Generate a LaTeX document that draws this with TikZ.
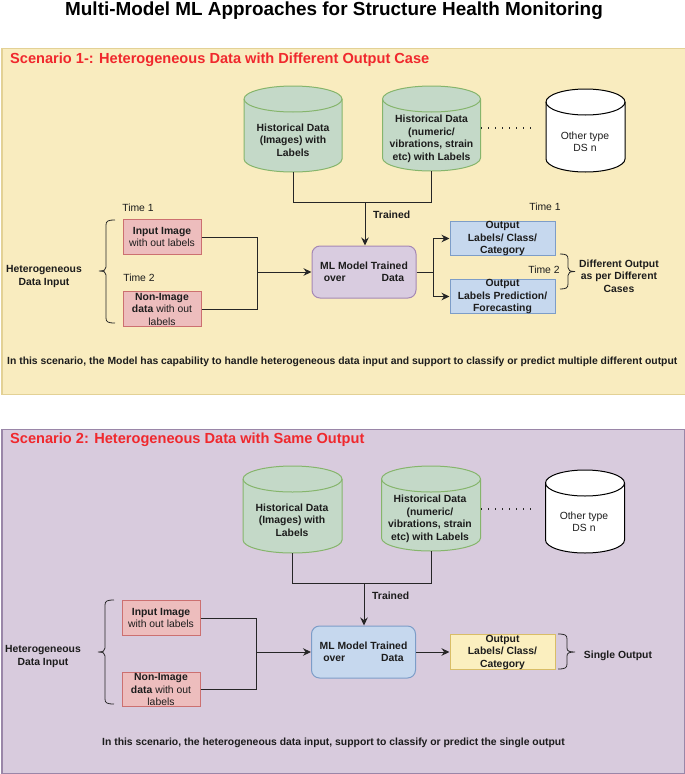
\documentclass[tikz,border=0pt]{standalone}
\usepackage{fontspec}
\setmainfont{Liberation Sans}
\usetikzlibrary{arrows.meta,positioning}
\definecolor{txt}{HTML}{1C1C1C}
\definecolor{panelA}{HTML}{F9ECBF}
\definecolor{panelAl}{HTML}{E3D195}
\definecolor{panelB}{HTML}{D8CBDD}
\definecolor{panelBl}{HTML}{9A86A8}
\definecolor{greenF}{HTML}{C4D9C8}
\definecolor{greenL}{HTML}{86B56C}
\definecolor{redF}{HTML}{EDBDBD}
\definecolor{redL}{HTML}{CC7070}
\definecolor{blueF}{HTML}{C6D8EE}
\definecolor{blueL}{HTML}{7D9DC8}
\definecolor{purF}{HTML}{D9CCE0}
\definecolor{purL}{HTML}{A588B5}
\definecolor{yelF}{HTML}{FBEFBF}
\definecolor{yelL}{HTML}{D9BD66}
\definecolor{scen}{HTML}{F0282D}
\tikzset{
  x=1pt,y=-1pt,
  txtbase/.style={font=\fontsize{10.38}{12.5}\selectfont,text=txt,align=center,inner sep=0pt},
  plaintxt/.style={txtbase},
  boldtxt/.style={txtbase,font=\fontsize{10.38}{12.5}\selectfont\bfseries},
  panelbox/.style={anchor=north west,minimum width=682pt,line width=1.2pt,inner sep=0pt},
  heading/.style={anchor=west,inner sep=0pt,text=scen,font=\fontsize{14.6}{16}\selectfont\bfseries},
  gcyl/.style={fill=greenF,draw=greenL,line width=1pt},
  wcyl/.style={fill=white,draw=black,line width=1pt},
  shapebox/.style={txtbase,draw,line width=1pt,minimum width=78pt,minimum height=34.5pt},
  redbox/.style={shapebox,fill=redF,draw=redL},
  outbox/.style={shapebox,minimum width=105pt},
  mdl/.style={txtbase,draw,line width=1pt,rounded corners=8pt,minimum width=104pt,minimum height=52pt,font=\fontsize{10.38}{12.5}\selectfont\bfseries},
  con/.style={draw=black!85,line width=.9pt},
  arr/.style={con,-{Stealth[length=8pt,width=7.5pt]}},
  dotline/.style={draw=black!85,line width=1.3pt,dash pattern=on 1.3pt off 5.7pt},
  br/.style={draw=black!85,line width=.8pt},
}
% name, centre x, top y, bottom y, half width, style: an anchor node and the drum drawn round it
\newcommand{\drum}[6]{%
  \node[minimum width=2*#5 pt,minimum height=#4 pt-#3 pt,inner sep=0pt] (#1) at (#2,{(#3+#4)/2}) {};
  \draw[#6] (#2-#5,#4-13) arc (180:360:#5pt and 13pt) -- (#2+#5,#3+13) arc (0:180:#5pt and 13pt) -- cycle;
  \draw[#6,fill=none] (#2-#5,#3+13) arc (180:360:#5pt and 13pt);
}
\newcommand{\leftbr}[6]{\draw[br] (#1,#4) .. controls (#2+2,#4) and (#2,#4+1) .. (#2,#4+5) -- (#2,#5-4) .. controls (#2,#5-1) and (#2-2,#5) .. (#3,#5) (#3,#5) .. controls (#2-2,#5) and (#2,#5+1) .. (#2,#5+4) -- (#2,#6-5) .. controls (#2,#6-1) and (#2+2,#6) .. (#1,#6);}
\newcommand{\rightbr}[6]{\draw[br] (#1,#4) .. controls (#2-2,#4) and (#2,#4+1) .. (#2,#4+5) -- (#2,#5-4) .. controls (#2,#5-1) and (#2+2,#5) .. (#3,#5) (#3,#5) .. controls (#2+2,#5) and (#2,#5+1) .. (#2,#5+4) -- (#2,#6-5) .. controls (#2,#6-1) and (#2-2,#6) .. (#1,#6);}
\begin{document}
\begin{tikzpicture}
\useasboundingbox (0,0) rectangle (685,774);
\fill[white] (0,0) rectangle (685,774);
\node[anchor=base,inner sep=0pt,font=\fontsize{18.9}{20}\selectfont\bfseries,text=black] (title) at (334,15) {Multi-Model ML Approaches for Structure Health Monitoring};
% Scenario 1
\node[panelbox,fill=panelA,draw=panelAl,minimum width=683pt,minimum height=346pt] (p1) at (1.5,47.5) {};
\node[heading] (h1t) at (10,60) {Scenario 1-: Heterogeneous Data with Different Output Case};
\drum{a1}{293}{86}{172}{49}{gcyl}
\drum{a2}{431.5}{86}{171}{49}{gcyl}
\drum{a3}{585.5}{89}{172}{39.5}{wcyl}
\node[boldtxt] (a1t) at (293,140) {Historical Data\\(Images) with\\Labels};
\node[boldtxt] (a2t) at (431.5,139) {Historical Data\\(numeric/\\vibrations, strain\\etc) with Labels};
\node[plaintxt] (a3t) at (585,142) {Other type\\DS n};
\coordinate (ad) at (532,128);
\draw[dotline] (481,128) -- (ad);
\node[mdl,fill=purF,draw=purL] (am) at (364,272) {ML Model Trained\\over\hspace{36pt}Data};
\coordinate (at) at (365,202);
\draw[con] (a1.south) |- (at);
\draw[con] (a2.south) |- (at);
\draw[arr] (at) -- (at |- am.north);
\node[boldtxt,anchor=west] (atr) at (373,215) {Trained};
\node[redbox] (ai1) at (162,237) {\textbf{Input Image}\\with out labels};
\node[redbox] (ai2) at (162,309) {\textbf{Non-Image}\\\textbf{data} with out\\labels};
\node[plaintxt] (at1) at (138,208) {Time 1};
\node[plaintxt] (at2) at (139,278) {Time 2};
\coordinate (am1) at (257,272);
\draw[con] (ai1.east) -| (am1);
\draw[con] (ai2.east) -| (am1);
\draw[arr] (am1) -- (am.west);
\node[boldtxt] (ahd) at (44,276.5) {Heterogeneous\\Data Input};
\leftbr{115}{106}{99}{220}{271}{323}
\node[outbox,fill=blueF,draw=blueL,boldtxt] (ao1) at (502.5,238.5) {Output\\Labels/ Class/\\Category};
\node[outbox,fill=blueF,draw=blueL,boldtxt] (ao2) at (502.5,296.5) {Output\\Labels Prediction/\\Forecasting};
\coordinate (as) at (433,272);
\draw[con] (am.east) -- (as);
\draw[arr] (as) |- (ao1.west);
\draw[arr] (as) |- (ao2.west);
\node[plaintxt] (at3) at (545,207) {Time 1};
\node[plaintxt] (at4) at (544,270) {Time 2};
\rightbr{560}{568}{575}{254}{271.5}{289}
\node[boldtxt] (adf) at (619,276) {Different Output\\as per Different\\Cases};
\node[boldtxt,anchor=west] (an) at (7,362) {In this scenario, the Model has capability to handle heterogeneous data input and support to classify or predict multiple different output};
% Scenario 2
\node[panelbox,fill=panelB,draw=panelBl,minimum height=344pt] (p2) at (1.5,428.5) {};
\node[heading] (h2t) at (10,440) {Scenario 2: Heterogeneous Data with Same Output};
\drum{b1}{292.5}{466}{553}{49.5}{gcyl}
\drum{b2}{431}{466}{551}{49.5}{gcyl}
\drum{b3}{585}{470}{553}{39.5}{wcyl}
\node[boldtxt] (b1t) at (292,520) {Historical Data\\(Images) with\\Labels};
\node[boldtxt] (b2t) at (430,519) {Historical Data\\(numeric/\\vibrations, strain\\etc) with Labels};
\node[plaintxt] (b3t) at (584,522) {Other type\\DS n};
\coordinate (bd) at (532,509);
\draw[dotline] (481,509) -- (bd);
\node[mdl,fill=blueF,draw=blueL] (bm) at (363.5,652) {ML Model Trained\\over\hspace{36pt}Data};
\coordinate (bt) at (364,583);
\draw[con] (b1.south) |- (bt);
\draw[con] (b2.south) |- (bt);
\draw[arr] (bt) -- (bt |- bm.north);
\node[boldtxt,anchor=west] (btr) at (372,596) {Trained};
\node[redbox] (bi1) at (161,618) {\textbf{Input Image}\\with out labels};
\node[redbox] (bi2) at (161,689.5) {\textbf{Non-Image}\\\textbf{data} with out\\labels};
\coordinate (bm1) at (256,652);
\draw[con] (bi1.east) -| (bm1);
\draw[con] (bi2.east) -| (bm1);
\draw[arr] (bm1) -- (bm.west);
\node[boldtxt] (bhd) at (43,656.5) {Heterogeneous\\Data Input};
\leftbr{114}{105}{98}{600}{652}{704}
\node[outbox,fill=yelF,draw=yelL,boldtxt] (bo) at (502.5,652) {Output\\Labels/ Class/\\Category};
\draw[arr] (bm.east) -- (bo.west);
\rightbr{558}{567}{575}{634}{652}{669}
\node[boldtxt] (bso) at (618,656) {Single Output};
\node[boldtxt,anchor=west] (bn) at (102,743) {In this scenario, the heterogeneous data input, support to classify or predict the single output};
\end{tikzpicture}
\end{document}
